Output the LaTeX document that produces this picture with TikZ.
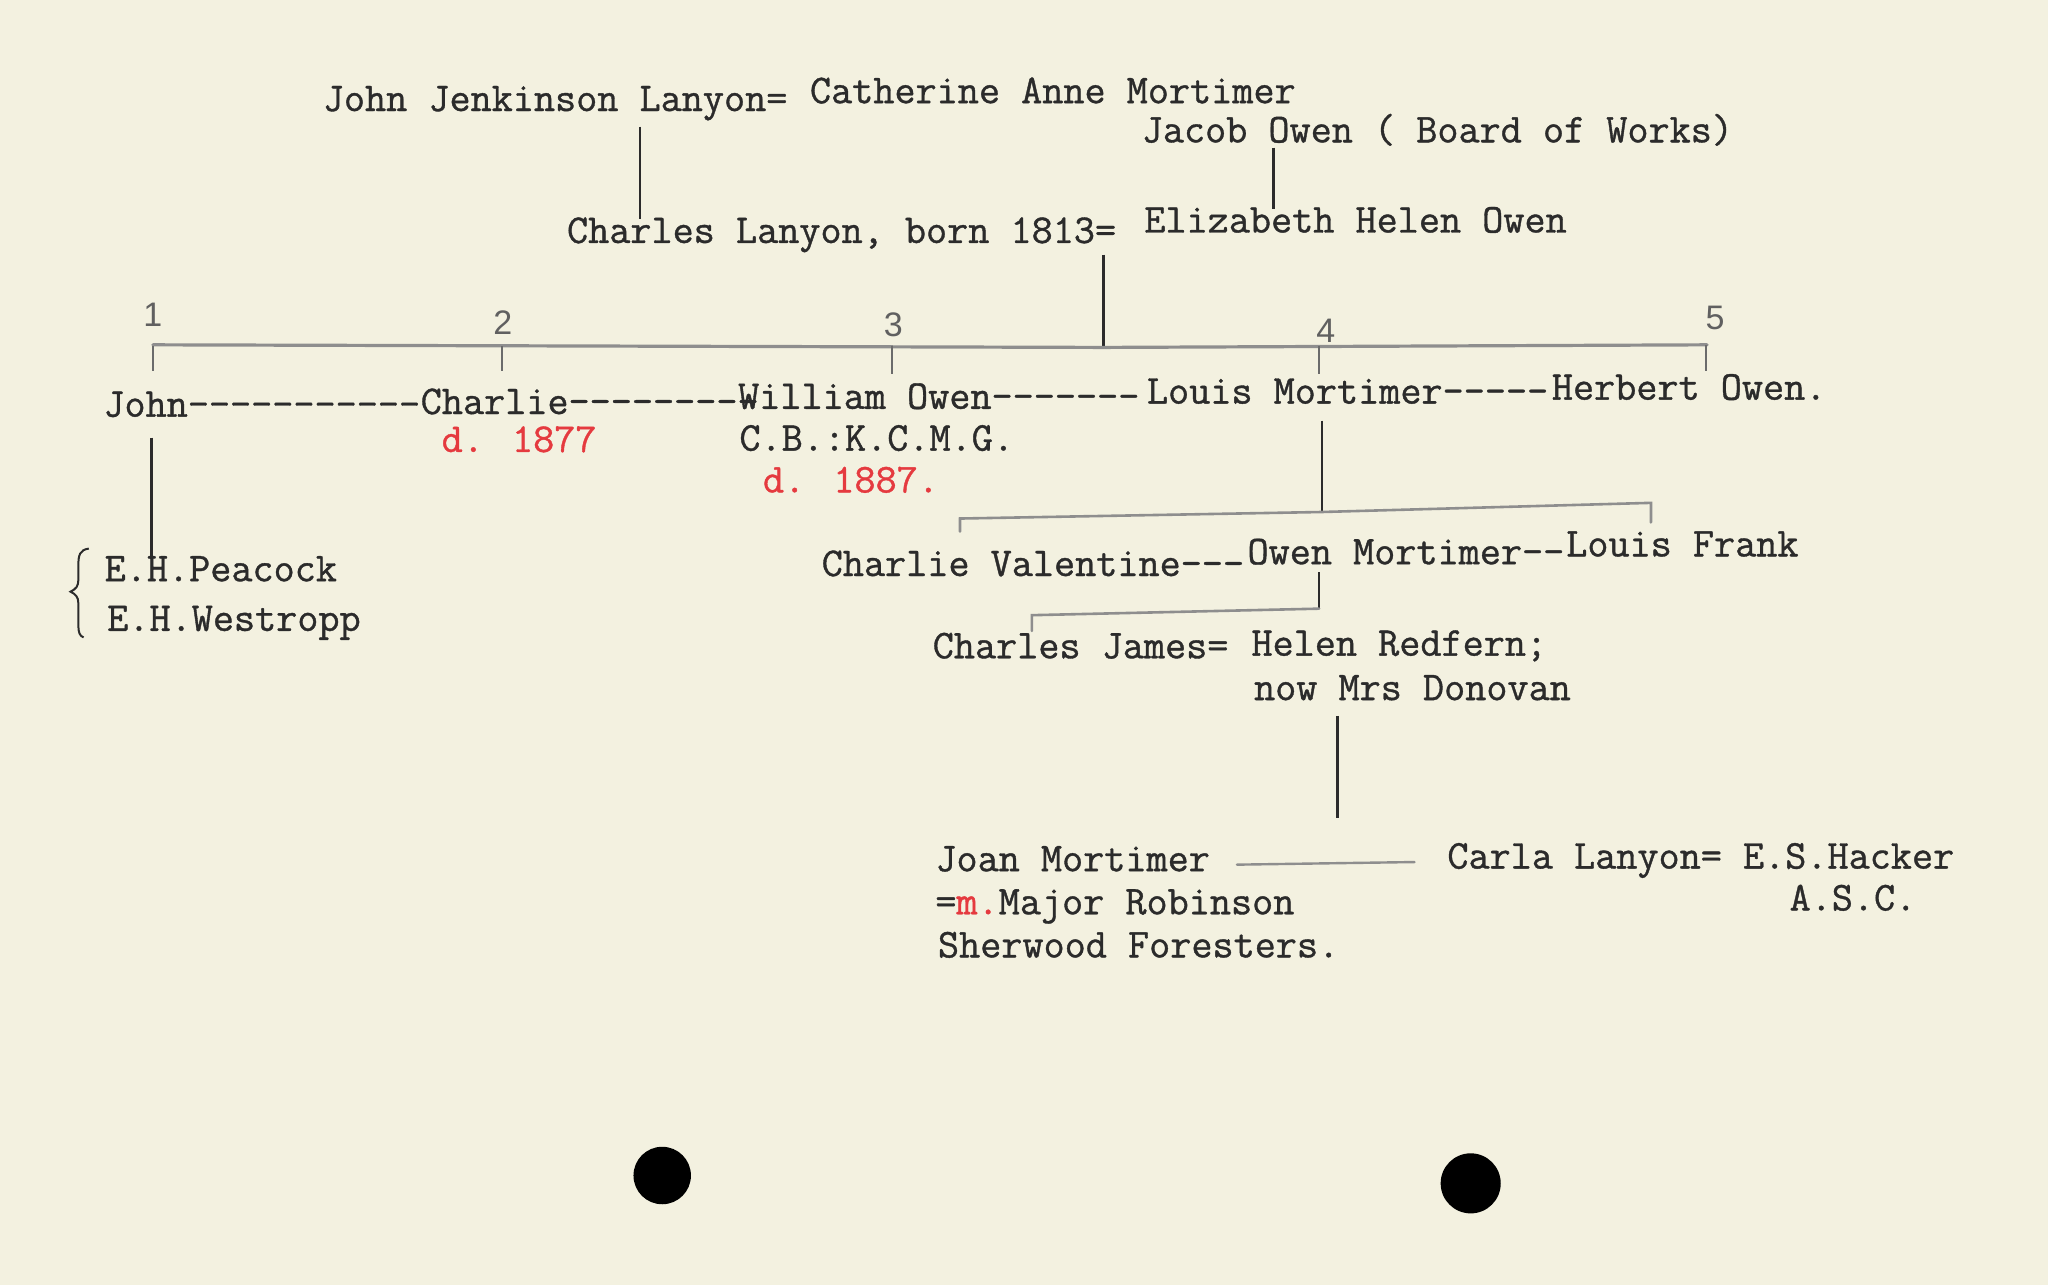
\documentclass[tikz,border=0pt]{standalone}
\usepackage{fontspec}
\newfontfamily\tw[FakeBold=0.9]{Latin Modern Mono}
\newfontfamily\hand{Liberation Sans}
\definecolor{paper}{HTML}{F3F1E0}
\definecolor{ink}{HTML}{2B2B2B}
\definecolor{redink}{HTML}{E53A3F}
\definecolor{pencil}{HTML}{8E8E8E}
\tikzset{
  tw/.style={anchor=base west,inner sep=0pt,font=\tw\fontsize{41}{48}\selectfont,text=ink},
  twred/.style={tw,text=redink},
  num/.style={anchor=base,inner sep=0pt,font=\hand\fontsize{34}{40}\selectfont,text=ink!75},
  inkline/.style={draw=ink,line width=2.4pt},
  pencilline/.style={draw=pencil,line width=3.2pt,line cap=round},
  tickline/.style={draw=ink!70,line width=2pt},
  hole/.style={fill=black}
}
\begin{document}
\begin{tikzpicture}[x=1.306pt,y=-1.306pt]
\fill[paper] (0,0) rectangle (1568,984);
\useasboundingbox (0,0) rectangle (1568,984);

% top generation
\node[tw] (jjl) at (247,85) {John Jenkinson Lanyon=};
\node[tw] (cam) at (620,79) {Catherine Anne Mortimer};
\node[tw] (jo) at (874,109) {Jacob Owen ( Board of Works)};
\node[tw] (cl) at (434,186) {Charles Lanyon, born 1813=};
\node[tw] (eho) at (876,178) {Elizabeth Helen Owen};

\coordinate (a1) at (490,97);  \coordinate (a2) at (490,168);
\coordinate (b1) at (975,113); \coordinate (b2) at (975,160);
\coordinate (c1) at (845,195); \coordinate (c2) at (845,267);
\draw[inkline] (a1) -- (a2);
\draw[inkline] (b1) -- (b2);
\draw[inkline] (c1) -- (c2);

% children bar
\coordinate (h1) at (117,264);
\coordinate (hm) at (845,266);
\coordinate (h5) at (1307,264);
\draw[pencilline] (h1) -- (hm) -- (h5);
\foreach \x/\ya/\yb in {117/265/284, 384/265/284, 683/265/286, 1010/265/286, 1306/264/284}
  \draw[tickline] (\x,\ya) -- (\x,\yb);
\node[num] (n1) at (117,250) {1};
\node[num] (n2) at (385,256) {2};
\node[num] (n3) at (684,258) {3};
\node[num] (n4) at (1015,262) {4};
\node[num] (n5) at (1313,252) {5};

\node[tw] (john) at (79,319) {John-----------};
\node[tw] (charlie) at (322,317) {Charlie---------};
\node[tw] (william) at (565,313) {William Owen-------};
\node[tw] (louis) at (878,309) {Louis Mortimer-----};
\node[tw] (herbert) at (1188,306) {Herbert Owen.};

\node[twred] (d1877) at (338,346) {d. 1877};
\node[tw] (cb) at (566,345) {C.B.:K.C.M.G.};
\node[twred] (d1887) at (584,377) {d. 1887.};

% John's line
\coordinate (j1) at (116,335); \coordinate (j2) at (116,428);
\draw[inkline] (j1) -- (j2);
\draw[draw=ink,line width=2pt]
  (68,420) .. controls (61,421) and (60,425) .. (60,433) -- (60,444)
  .. controls (60,449) and (58,451) .. (54,453)
  .. controls (58,455) and (60,457) .. (60,462) -- (60,479)
  .. controls (60,484) and (61,487) .. (64,488);
\node[tw] (peacock) at (80,445) {E.H.Peacock};
\node[tw] (westropp) at (82,483) {E.H.Westropp};

% Louis Mortimer's line
\coordinate (l1) at (1012,322); \coordinate (l2) at (1012,392);
\draw[inkline] (l1) -- (l2);
\coordinate (k1) at (735,407); \coordinate (k2) at (735,397);
\coordinate (k3) at (1264,385); \coordinate (k4) at (1264,400);
\draw[pencilline,line width=2.6pt] (k1) -- (k2) -- (l2) -- (k3) -- (k4);

\node[tw] (cv) at (629,441) {Charlie Valentine---};
\node[tw] (om) at (955,432) {Owen Mortimer--};
\node[tw] (lf) at (1199,426) {Louis Frank};

\coordinate (o1) at (1010,438); \coordinate (o2) at (1010,466);
\draw[inkline] (o1) -- (o2);
\coordinate (m1) at (790,483); \coordinate (m2) at (790,471);
\draw[pencilline,line width=2.6pt] (m1) -- (m2) -- (o2);

\node[tw] (cj) at (714,504) {Charles James=};
\node[tw] (hr) at (958,502) {Helen Redfern;};
\node[tw] (md) at (960,536) {now Mrs Donovan};

\coordinate (p1) at (1024,548); \coordinate (p2) at (1024,626);
\draw[inkline] (p1) -- (p2);

\node[tw] (joan) at (716,667) {Joan Mortimer};
\node[tw] (carla) at (1108,665) {Carla Lanyon= E.S.Hacker};
\coordinate (q1) at (947,662); \coordinate (q2) at (1083,660);
\draw[pencilline,line width=2.4pt] (q1) -- (q2);
\node[tw] (asc) at (1370,697) {A.S.C.};
\node[tw] (major) at (716,700) {=\textcolor{redink}{m.}Major Robinson};
\node[tw] (sher) at (718,733) {Sherwood Foresters.};

% punch holes
\fill[hole] (507,900) circle (22);
\fill[hole] (1126,906) circle (23);
\end{tikzpicture}
\end{document}
